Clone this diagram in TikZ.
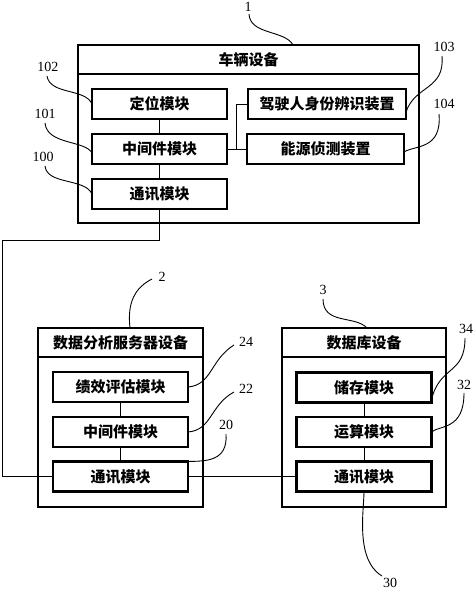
\documentclass[tikz,border=0pt]{standalone}
\usepackage{fontspec}
\setmainfont{Liberation Serif}
\newfontfamily\cjk{Noto Sans CJK SC}
\begin{document}
\begin{tikzpicture}[x=1pt,y=-1pt,
  outerbox/.style={draw, line width=2.6pt, inner sep=0pt, outer sep=0pt},
  mod/.style={draw, line width=2.3pt, minimum width=135pt, minimum height=30pt, inner sep=0pt, outer sep=0pt, font=\cjk\bfseries\fontsize{15}{15}\selectfont},
  ttl/.style={inner sep=0pt, font=\cjk\bfseries\fontsize{15}{15}\selectfont},
  conn/.style={line width=1pt},
  lead/.style={line width=0.9pt},
  lbl/.style={inner sep=0pt, font=\fontsize{14}{14}\selectfont}]
\useasboundingbox (0,0) rectangle (474,590);
% vehicle device
\node[outerbox, minimum width=341pt, minimum height=178pt] (veh) at (248.5,134) {};
\draw[line width=2.6pt] ([yshift=-29pt]veh.north west) -- ([yshift=-29pt]veh.north east);
\node[ttl] (vehT) at (248.5,60) {车辆设备};
\node[mod] (loc) at (159.5,104) {定位模块};
\node[mod] (mid) at (159.5,149) {中间件模块};
\node[mod] (com) at (159.5,194) {通讯模块};
\node[mod, minimum width=158pt] (drv) at (327,104) {驾驶人身份辨识装置};
\node[mod, minimum width=157pt] (eng) at (325.5,149) {能源侦测装置};
\draw[conn] (loc.south) -- (mid.north);
\draw[conn] (mid.south) -- (com.north);
\draw[conn] (mid.east) -- (eng.west);
\coordinate (j1) at (236,149);
\draw[conn] (j1) |- (drv.west);
% server
\node[outerbox, minimum width=165pt, minimum height=179pt] (srv) at (120.5,417.5) {};
\draw[line width=2.6pt] ([yshift=-29pt]srv.north west) -- ([yshift=-29pt]srv.north east);
\node[ttl] (srvT) at (120.5,343) {数据分析服务器设备};
\node[mod] (perf) at (120.5,387) {绩效评估模块};
\node[mod] (smid) at (120.5,432) {中间件模块};
\node[mod] (scom) at (120.5,476.5) {通讯模块};
\draw[conn] (perf.south) -- (smid.north);
\draw[conn] (smid.south) -- (scom.north);
% database
\node[outerbox, minimum width=164pt, minimum height=179pt] (db) at (364,417.5) {};
\draw[line width=2.6pt] ([yshift=-29pt]db.north west) -- ([yshift=-29pt]db.north east);
\node[ttl] (dbT) at (364,343) {数据库设备};
\node[mod] (sto) at (364,387.5) {储存模块};
\node[mod] (calc) at (364,432) {运算模块};
\node[mod] (dcom) at (364,476.5) {通讯模块};
\draw[conn] (sto.south) -- (calc.north);
\draw[conn] (calc.south) -- (dcom.north);
% links
\draw[conn] (scom.east) -- (dcom.west);
\coordinate (c1) at (2.5,240);
\draw[conn] (com.south) -- (com.south |- c1) -- (c1) |- (scom.west);
% labels
\node[lbl] (l1) at (248,7) {1};
\draw[lead] (249,14) .. controls (250,35) and (285,30) .. (veh.north -| 293,0);
\node[lbl] (l102) at (48,67) {102};
\draw[lead] (47,76) .. controls (50,95) and (85,88) .. (loc.west);
\node[lbl] (l101) at (45,114) {101};
\draw[lead] (45,123) .. controls (47,145) and (85,140) .. ([yshift=-4pt]mid.west);
\node[lbl] (l100) at (43,157) {100};
\draw[lead] (45,166) .. controls (47,185) and (85,178) .. (com.west);
\node[lbl] (l103) at (444,47) {103};
\draw[lead] (442,56) .. controls (445,90) and (415,85) .. ([yshift=-8pt]drv.east);
\node[lbl] (l104) at (444,104) {104};
\draw[lead] (439,114) .. controls (442,150) and (415,145) .. ([yshift=-3pt]eng.east);
\node[lbl] (l2) at (162,277) {2};
\draw[lead] (152,279) .. controls (130,290) and (128,310) .. (srv.north -| 130,0);
\node[lbl] (l24) at (246,342) {24};
\draw[lead] (234,345) .. controls (210,360) and (212,385) .. (perf.east);
\node[lbl] (l22) at (246,389) {22};
\draw[lead] (234,392) .. controls (210,405) and (212,430) .. (smid.east);
\node[lbl] (l20) at (226,425) {20};
\draw[lead] (226,434) .. controls (228,462) and (205,461) .. (scom.north east);
\node[lbl] (l3) at (323,290) {3};
\draw[lead] (323,299) .. controls (323,325) and (355,315) .. (db.north -| 367,0);
\node[lbl] (l34) at (466,329) {34};
\draw[lead] (465,338) .. controls (465,375) and (440,365) .. ([yshift=-12pt]sto.east);
\node[lbl] (l32) at (464,385) {32};
\draw[lead] (464,393) .. controls (464,430) and (440,425) .. (calc.east);
\node[lbl] (l30) at (390,583) {30};
\draw[lead] (382,576) .. controls (355,560) and (364,510) .. (dcom.south);
\end{tikzpicture}
\end{document}
